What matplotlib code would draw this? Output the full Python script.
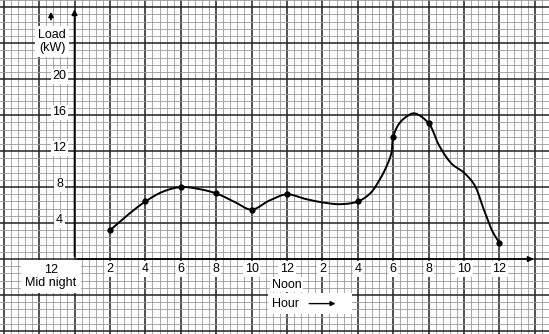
import matplotlib
matplotlib.use('Agg')
import matplotlib.pyplot as plt
import numpy as np

plt.rcParams['font.family'] = ['Liberation Sans', 'DejaVu Sans']

# load curve (hours after midnight, kW)
hours = [2, 3, 4, 5, 6, 7, 8, 9, 10, 11, 12, 13, 14, 15, 16, 16.7, 17.2, 17.6,
         17.9, 18, 18.35, 18.8, 19.2, 20, 20.6, 21.3, 22, 22.6, 23.1, 23.6, 24]
load = [3.2, 4.9, 6.4, 7.5, 8.0, 7.8, 7.3, 6.4, 5.5, 6.5, 7.2, 6.7, 6.3, 6.1, 6.4,
        7.3, 8.7, 10.2, 11.8, 13.6, 15.1, 15.9, 16.2, 15.1, 12.6, 10.6, 9.6, 8.2,
        5.6, 3.1, 1.8]
dot_hours = [2, 4, 6, 8, 10, 12, 16, 18, 20, 24]
dot_load = [3.2, 6.4, 8.0, 7.3, 5.5, 7.2, 6.4, 13.6, 15.1, 1.8]

x_ticks = [2, 4, 6, 8, 10, 12, 14, 16, 18, 20, 22, 24]
x_labels = ['2', '4', '6', '8', '10', '12', '2', '4', '6', '8', '10', '12']
y_ticks = [4, 8, 12, 16, 20]


def smooth(x, y, n=30, sx=18.04, sy=9.125):
    # centripetal Catmull-Rom through the read points (scaled to paper units)
    p = np.column_stack([np.asarray(x, float) * sx, np.asarray(y, float) * sy])
    p = np.vstack([2 * p[0] - p[1], p, 2 * p[-1] - p[-2]])
    out = []
    for i in range(1, len(p) - 2):
        p0, p1, p2, p3 = p[i - 1], p[i], p[i + 1], p[i + 2]
        t0 = 0.0
        t1 = t0 + np.linalg.norm(p1 - p0) ** 0.5
        t2 = t1 + np.linalg.norm(p2 - p1) ** 0.5
        t3 = t2 + np.linalg.norm(p3 - p2) ** 0.5
        t = np.linspace(t1, t2, n)[:, None]
        a1 = (t1 - t) / (t1 - t0) * p0 + (t - t0) / (t1 - t0) * p1
        a2 = (t2 - t) / (t2 - t1) * p1 + (t - t1) / (t2 - t1) * p2
        a3 = (t3 - t) / (t3 - t2) * p2 + (t - t2) / (t3 - t2) * p3
        b1 = (t2 - t) / (t2 - t0) * a1 + (t - t0) / (t2 - t0) * a2
        b2 = (t3 - t) / (t3 - t1) * a2 + (t - t1) / (t3 - t1) * a3
        c = (t2 - t) / (t2 - t1) * b1 + (t - t1) / (t2 - t1) * b2
        out.append(c)
    c = np.vstack(out)
    return c[:, 0] / sx, c[:, 1] / sy


fig = plt.figure(figsize=(5.49, 3.34), dpi=100)
ax = fig.add_axes([0, 0, 1, 1])
ax.set_xlim(-4.21, 26.22)
ax.set_ylim(-8.33, 28.27)

# graph paper
ax.set_xticks(np.arange(-4, 27, 2))
ax.set_xticks(np.arange(-4, 27, 0.4), minor=True)
ax.set_yticks(np.arange(-8, 29, 4))
ax.set_yticks(np.arange(-8, 29, 0.8), minor=True)
ax.grid(which='minor', color='#9a9a9a', linewidth=0.6)
ax.grid(which='major', color='#202020', linewidth=1.1)
ax.tick_params(which='both', length=0, labelbottom=False, labelleft=False)
for s in ax.spines.values():
    s.set_visible(False)
ax.set_axisbelow(True)

# axes with arrows
ax.annotate('', xy=(0, 28.1), xytext=(0, 0),
            arrowprops=dict(arrowstyle='-|>', color='black', lw=1.2,
                            mutation_scale=8))
ax.annotate('', xy=(26.1, 0), xytext=(0, 0),
            arrowprops=dict(arrowstyle='-|>', color='black', lw=1.2,
                            mutation_scale=8))

cx, cy = smooth(hours, load)
ax.plot(cx, cy, color='black', lw=1.4, zorder=3)
ax.plot(dot_hours, dot_load, 'o', color='black', ms=3.5, zorder=4)

box = dict(facecolor='white', edgecolor='none', pad=1.2)
for xt, lab in zip(x_ticks, x_labels):
    ax.text(xt, -1.1, lab, ha='center', va='center', fontsize=9, bbox=box)
ax.text(-1.33, -1.95, '12\nMid night', ha='center', va='center', fontsize=9,
        linespacing=1.1, bbox=dict(facecolor='white', edgecolor='none', pad=3))
for yt in y_ticks:
    ax.text(-0.85, yt + 0.3, str(yt), ha='center', va='center', fontsize=9,
            bbox=box)

ax.text(-1.27, 24.2, 'Load\n(kW)', ha='center', va='center', fontsize=9,
        linespacing=1.1, bbox=dict(facecolor='white', edgecolor='none', pad=2))
ax.annotate('', xy=(-1.33, 27.8), xytext=(-1.33, 26.3),
            arrowprops=dict(arrowstyle='-|>', color='black', lw=1.2,
                            mutation_scale=7))

ax.text(12, -2.85, 'Noon', ha='center', va='center', fontsize=9, bbox=box)
ax.text(13.3, -4.95, 'Hour              ', ha='center', va='center', fontsize=9,
        bbox=dict(facecolor='white', edgecolor='none', pad=3))
ax.annotate('', xy=(14.9, -4.95), xytext=(13.1, -4.95),
            arrowprops=dict(arrowstyle='-|>', color='black', lw=1.0,
                            mutation_scale=7))

fig.savefig('out.png', dpi=100)
